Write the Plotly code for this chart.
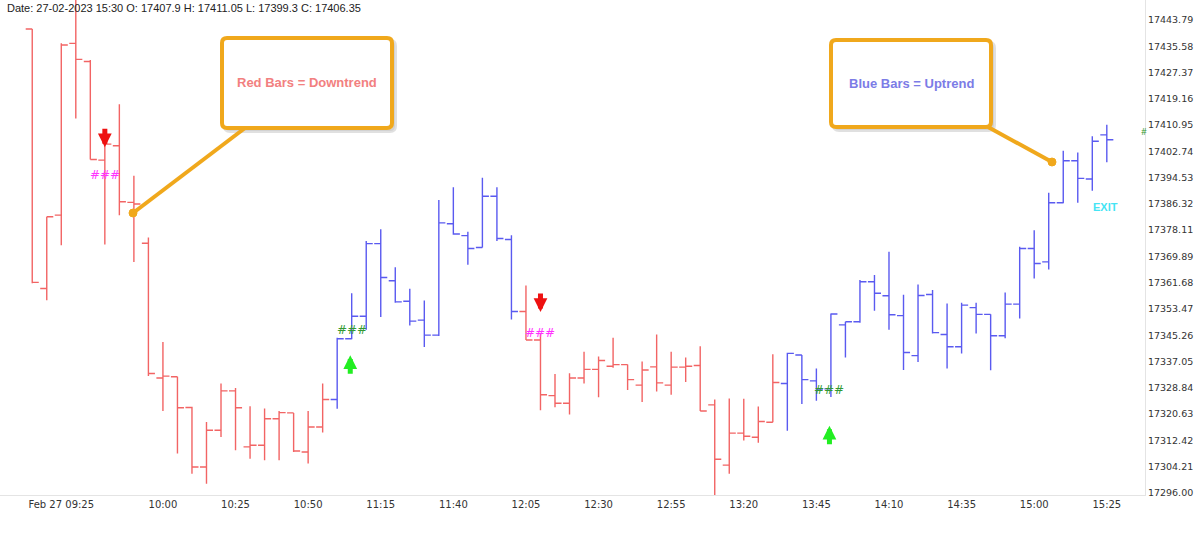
import plotly.graph_objects as go

times = ["09:15","09:20","09:25","09:30","09:35","09:40","09:45","09:50","09:55","10:00",
         "10:05","10:10","10:15","10:20","10:25","10:30","10:35","10:40","10:45","10:50",
         "10:55","11:00","11:05","11:10","11:15","11:20","11:25","11:30","11:35","11:40",
         "11:45","11:50","11:55","12:00","12:05","12:10","12:15","12:20","12:25","12:30",
         "12:35","12:40","12:45","12:50","12:55","13:00","13:05","13:10","13:15","13:20",
         "13:25","13:30","13:35","13:40","13:45","13:50","13:55","14:00","14:05","14:10",
         "14:15","14:20","14:25","14:30","14:35","14:40","14:45","14:50","14:55","15:00",
         "15:05","15:10","15:15","15:20","15:25"]

opens = [17441.0,17359.9,17382.8,17436.5,17430.8,17400.0,17404.5,17386.8,17374.0,17331.9,
         17332.3,17322.7,17304.1,17315.6,17327.9,17310.4,17310.9,17319.2,17321.0,17308.8,
         17316.6,17325.2,17344.2,17351.2,17373.9,17362.3,17355.9,17350.0,17345.3,17380.1,
         17376.4,17372.7,17388.7,17375.2,17352.7,17343.8,17326.4,17324.0,17331.9,17334.6,
         17335.6,17336.1,17329.7,17335.4,17329.7,17335.3,17335.8,17323.5,17304.7,17314.7,
         17313.4,17318.1,17330.2,17339.1,17331.0,17328.5,17348.5,17349.5,17362.0,17357.6,
         17351.4,17338.9,17358.0,17345.5,17341.7,17353.9,17351.8,17345.1,17355.0,17372.4,
         17368.2,17386.7,17399.8,17394.1,17407.9]
highs = [17441.0,17382.3,17436.5,17452.0,17431.3,17405.0,17417.5,17395.1,17375.8,17343.2,
         17332.3,17322.9,17318.2,17330.2,17328.8,17323.1,17322.4,17321.6,17321.0,17321.6,
         17330.2,17344.5,17358.4,17374.7,17378.4,17366.5,17359.8,17356.1,17387.5,17391.5,
         17377.6,17394.5,17391.5,17376.5,17360.8,17345.8,17333.2,17333.4,17340.1,17338.6,
         17344.5,17336.1,17337.1,17345.5,17340.1,17338.3,17341.8,17325.2,17325.5,17325.4,
         17323.0,17339.3,17339.8,17339.1,17334.9,17352.1,17349.5,17362.5,17364.1,17371.4,
         17357.9,17361.1,17359.4,17355.2,17355.4,17355.4,17351.8,17358.6,17372.9,17378.1,
         17389.8,17402.9,17402.4,17407.5,17411.05]
lows = [17361.5,17356.2,17373.4,17413.0,17400.2,17373.6,17382.8,17368.2,17332.5,17321.6,
        17308.3,17302.0,17298.9,17313.5,17309.3,17306.7,17306.2,17306.2,17308.8,17305.2,
        17314.9,17322.3,17344.0,17347.0,17351.0,17355.4,17348.3,17341.6,17345.0,17376.7,
        17367.3,17372.7,17374.7,17350.2,17343.8,17321.8,17322.8,17320.5,17330.2,17325.9,
        17335.1,17328.2,17324.4,17327.7,17326.7,17330.7,17321.6,17294.0,17302.0,17312.4,
        17311.7,17318.1,17315.4,17323.8,17324.8,17326.0,17338.3,17349.2,17352.9,17347.0,
        17334.4,17336.9,17345.8,17334.9,17339.6,17345.8,17334.3,17344.3,17350.5,17363.0,
        17365.8,17386.5,17386.7,17390.4,17399.3]
closes = [17361.8,17382.3,17436.0,17431.5,17400.2,17405.0,17387.0,17386.3,17333.3,17332.5,
          17322.6,17304.1,17315.6,17327.9,17322.6,17310.9,17319.2,17321.1,17309.1,17316.6,
          17325.2,17344.2,17351.2,17373.9,17363.3,17355.7,17349.7,17345.3,17380.4,17376.9,
          17372.4,17388.7,17375.5,17352.7,17343.8,17326.7,17324.0,17331.9,17334.6,17337.4,
          17336.1,17331.4,17334.4,17330.4,17335.3,17335.6,17321.6,17306.5,17314.7,17313.7,
          17318.3,17330.5,17339.6,17331.4,17328.2,17351.9,17349.5,17362.0,17358.4,17351.7,
          17339.9,17357.7,17346.1,17341.7,17354.7,17351.8,17345.1,17355.0,17372.4,17367.7,
          17386.7,17399.8,17394.3,17405.9,17406.35]
trend = ["down"]*21 + ["up"]*13 + ["down"]*18 + ["up"]*23

ytick_vals = [17296.00,17304.21,17312.42,17320.63,17328.84,17337.05,17345.26,17353.47,17361.68,
              17369.89,17378.11,17386.32,17394.53,17402.74,17410.95,17419.16,17427.37,17435.58,17443.79]
xtick_idx = [2,9,14,19,24,29,34,39,44,49,54,59,64,69,74]
xtick_text = ["Feb 27 09:25"] + [times[i] for i in xtick_idx[1:]]

RED = "#f26464"
BLUE = "#5a5af0"
fig = go.Figure()
for name, col in [("down", RED), ("up", BLUE)]:
    idx = [i for i, t in enumerate(trend) if t == name]
    fig.add_trace(go.Ohlc(
        x=idx, open=[opens[i] for i in idx], high=[highs[i] for i in idx],
        low=[lows[i] for i in idx], close=[closes[i] for i in idx],
        increasing=dict(line=dict(color=col, width=1.4)),
        decreasing=dict(line=dict(color=col, width=1.4)),
        tickwidth=0.45, showlegend=False, hoverinfo="skip"))

ann = []
def arrow(x, y, col, down):
    ann.append(dict(x=x, y=y, xref="x", yref="y", ax=0, ay=-20 if down else 20, text="",
                    showarrow=True, arrowhead=2, arrowsize=0.55, arrowwidth=5, arrowcolor=col))
arrow(5.0, 17404.0, "#ee1111", True)
arrow(35.0, 17352.5, "#ee1111", True)
arrow(21.9, 17339.0, "#22ee22", False)
arrow(54.9, 17317.0, "#22ee22", False)
def txt(x, y, s, col, size=12):
    ann.append(dict(x=x, y=y, xref="x", yref="y", text=s, showarrow=False,
                    font=dict(color=col, size=size, family="DejaVu Sans")))
txt(5.0, 17395.4, "###", "#ff33ff")
txt(35.0, 17346.0, "###", "#ff33ff")
txt(22.0, 17347.0, "###", "#339933")
txt(54.9, 17328.3, "###", "#339933")
ann.append(dict(x=73.9, y=17385.4, xref="x", yref="y", text="<b>EXIT</b>", showarrow=False,
                font=dict(color="#44e4f4", size=11, family="Liberation Sans")))
ann.append(dict(x=0.999, y=0.735, xref="paper", yref="paper", xanchor="center", yanchor="middle",
                text="#", showarrow=False, font=dict(color="#339933", size=9)))
ann.append(dict(x=0.004, y=1.0, xref="paper", yref="paper", xanchor="left", yanchor="top",
                text="Date: 27-02-2023 15:30 O: 17407.9 H: 17411.05 L: 17399.3 C: 17406.35",
                showarrow=False, font=dict(color="#222", size=11, family="Liberation Sans")))

W, H = 1145.0, 495.0
def px(x): return x / W
def py(y): return 1 - y / H
boxes = [(222, 38, 392, 128, 245, 128, 133, 213, "Red Bars = Downtrend", "#f28080"),
         (831, 40, 991, 127, 988, 127, 1052, 162, "Blue Bars = Uptrend", "#7c7ce6")]
ORANGE = "#f0a81c"
def rrect(x0, y0, x1, y1, r=5):
    rx, ry = r / W, r / H
    x0, x1, y0, y1 = px(x0), px(x1), py(y1), py(y0)
    return (f"M{x0+rx},{y1} L{x1-rx},{y1} Q{x1},{y1} {x1},{y1-ry} L{x1},{y0+ry} Q{x1},{y0} {x1-rx},{y0} "
            f"L{x0+rx},{y0} Q{x0},{y0} {x0},{y0+ry} L{x0},{y1-ry} Q{x0},{y1} {x0+rx},{y1} Z")
shapes = []
for (x0, y0, x1, y1, lx, ly, dx, dy, label, tc) in boxes:
    shapes.append(dict(type="path", xref="paper", yref="paper", path=rrect(x0+3, y0+3, x1+3, y1+3),
                       line=dict(color="rgba(0,0,0,0.12)", width=4), fillcolor="rgba(0,0,0,0.06)"))
    shapes.append(dict(type="line", xref="paper", yref="paper", x0=px(lx), y0=py(ly), x1=px(dx), y1=py(dy),
                       line=dict(color=ORANGE, width=4)))
    shapes.append(dict(type="path", xref="paper", yref="paper", path=rrect(x0, y0, x1, y1),
                       line=dict(color=ORANGE, width=4), fillcolor="white"))
    shapes.append(dict(type="circle", xref="paper", yref="paper", x0=px(dx-4), x1=px(dx+4),
                       y0=py(dy+4), y1=py(dy-4), fillcolor=ORANGE, line=dict(color=ORANGE, width=1)))
    ann.append(dict(x=px((x0+x1)/2), y=py((y0+y1)/2), xref="paper", yref="paper",
                    xanchor="center", yanchor="middle", text="<b>%s</b>" % label, showarrow=False,
                    font=dict(color=tc, size=13, family="Liberation Sans")))

fig.update_layout(
    width=1200, height=546, margin=dict(l=0, r=55, t=0, b=51),
    paper_bgcolor="white", plot_bgcolor="white",
    annotations=ann, shapes=shapes,
    xaxis=dict(range=[-2.22, 76.63], rangeslider=dict(visible=False), showgrid=False, zeroline=False,
               tickvals=xtick_idx, ticktext=xtick_text, ticks="", showline=True, linecolor="#e4e4e4",
               tickfont=dict(size=10, family="DejaVu Sans", color="#333")),
    yaxis=dict(range=[17295.35, 17450.04], side="right", showgrid=False, zeroline=False,
               tickvals=ytick_vals, ticktext=["%.2f" % v for v in ytick_vals], ticks="",
               showline=True, linecolor="#e4e4e4",
               tickfont=dict(size=9.5, family="DejaVu Sans", color="#333")),
)
fig.write_html("out.html", config={"displayModeBar": False})
with open("out.html", encoding="utf-8") as f:
    html = f.read()
html = html.replace("<head>", "<head><style>body{margin:0;padding:0}</style>", 1)
with open("out.html", "w", encoding="utf-8") as f:
    f.write(html)
